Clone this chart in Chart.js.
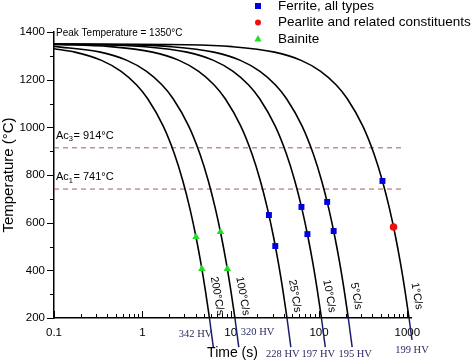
<!DOCTYPE html>
<html><head><meta charset="utf-8">
<script src="https://cdn.jsdelivr.net/npm/chart.js@4.4.1/dist/chart.umd.min.js"></script>
<style>html,body{margin:0;padding:0;background:#fff}#wrap{width:474px;height:362px;position:relative}</style>
</head><body><div id="wrap"><canvas id="c"></canvas></div>
<script>
// ---- data ----
const rateLabels = ['200°C/s','100°C/s','25°C/s','10°C/s','5°C/s','1°C/s'];
const hvLabels = ['342 HV','320 HV','228 HV','197 HV','195 HV','199 HV'];

const time200 = [0.1, 0.1725, 0.345, 0.575, 0.8625, 1.15, 1.725, 2.3, 2.875, 3.45, 4.025, 4.6, 5.175, 5.75];
const temp200 = [1330, 1315.5, 1281, 1235, 1177.5, 1120, 1005, 890, 775, 660, 545, 430, 315, 200];
const time100 = [0.1, 0.335, 0.67, 1.117, 1.676, 2.234, 3.351, 4.468, 5.585, 6.702, 7.819, 8.936, 10.05, 11.17];
const temp100 = [1339.7, 1315.5, 1281, 1235, 1177.5, 1120, 1005, 890, 775, 660, 545, 430, 315, 200];
const time25 = [0.1, 0.434, 1.302, 2.604, 4.34, 6.51, 8.68, 13.02, 17.36, 21.7, 26.04, 30.38, 34.72, 39.06, 43.4];
const temp25 = [1347.4, 1338.5, 1315.5, 1281, 1235, 1177.5, 1120, 1005, 890, 775, 660, 545, 430, 315, 200];
const time10 = [0.1, 0.32, 1.065, 3.195, 6.39, 10.65, 15.98, 21.3, 31.95, 42.6, 53.25, 63.9, 74.55, 85.2, 95.85, 106.5];
const temp10 = [1348.9, 1346.5, 1338.5, 1315.5, 1281, 1235, 1177.5, 1120, 1005, 890, 775, 660, 545, 430, 315, 200];
const time5 = [0.1, 0.644, 2.146, 6.438, 12.88, 21.46, 32.19, 42.92, 64.38, 85.84, 107.3, 128.8, 150.2, 171.7, 193.1, 214.6];
const temp5 = [1349.5, 1346.5, 1338.5, 1315.5, 1281, 1235, 1177.5, 1120, 1005, 890, 775, 660, 545, 430, 315, 200];
const time1 = [0.1, 3.135, 10.45, 31.35, 62.7, 104.5, 156.8, 209, 313.5, 418, 522.5, 627, 731.5, 836, 940.5, 1045];
const temp1 = [1349.9, 1346.5, 1338.5, 1315.5, 1281, 1235, 1177.5, 1120, 1005, 890, 775, 660, 545, 430, 315, 200];

// continuation below 200 °C (to hardness labels)
const tailTime = [[5.75, 6.36], [11.17, 12.35], [43.4, 48.0], [106.5, 117.8], [214.6, 237.3], [1045, 1129]];
const tailTemp = [[200, 78], [200, 78], [200, 78], [200, 78], [200, 78], [200, 108]];

// where the rate labels sit along each curve
const rateLabelTime = [5.29, 10.27, 39.9, 98.0, 197.4, 961.8];
const rateLabelTemp = 292;

const ferriteTime = [27.1, 32.0, 63.3, 73.9, 123.7, 146.5, 522.7];
const ferriteTemp = [632, 502, 666, 552, 687, 565, 775];
const pearliteTime = [698];
const pearliteTemp = [582];
const bainiteTime = [4.05, 4.72, 7.66, 9.17];
const bainiteTemp = [540, 406, 561, 406];

const criticalTemps = [914, 741];
const criticalNames = [['Ac', '3', '= 914°C'], ['Ac', '1', '= 741°C']];
const criticalSpan = [0.1, 880];
const peakText = 'Peak Temperature = 1350°C';
const peakTemp = 1400;

const xMin = 0.1, xMax = 1100, yMin = 200, yMax = 1400, yStep = 200;

// ---- build datasets ----
const curveTimes = [time200, time100, time25, time10, time5, time1];
const curveTemps = [temp200, temp100, temp25, temp10, temp5, temp1];
const pts = (xs, ys) => xs.map((x, i) => ({x: x, y: ys[i]}));

const SANS = '"Liberation Sans", Arial, sans-serif';
const SERIF = '"Liberation Serif", "Times New Roman", serif';

const datasets = [];
datasets.push({label: 'Ferrite, all types', data: pts(ferriteTime, ferriteTemp), showLine: false,
  pointStyle: 'rect', pointRadius: 4.2, backgroundColor: '#0000dd', borderColor: '#0000dd', borderWidth: 0});
datasets.push({label: 'Pearlite and related constituents', data: pts(pearliteTime, pearliteTemp), showLine: false,
  pointStyle: 'circle', pointRadius: 3.8, backgroundColor: '#ee1111', borderColor: '#ee1111', borderWidth: 0});
datasets.push({label: 'Bainite', data: pts(bainiteTime, bainiteTemp), showLine: false,
  pointStyle: 'triangle', pointRadius: 4.3, backgroundColor: '#22dd22', borderColor: '#22dd22', borderWidth: 0});
curveTimes.forEach((ts, i) => {
  datasets.push({label: rateLabels[i], data: pts(ts, curveTemps[i]), borderColor: '#000', borderWidth: 1.6,
    pointRadius: 0, cubicInterpolationMode: 'monotone', fill: false});
});
tailTime.forEach((ts, i) => {
  datasets.push({label: hvLabels[i], data: pts(ts, tailTemp[i]), borderColor: '#1c1c6e', borderWidth: 1.5,
    pointRadius: 0, clip: false, fill: false});
});
criticalTemps.forEach((T, i) => {
  datasets.push({label: criticalNames[i].join(''), data: pts(criticalSpan, [T, T]), borderColor: '#a85c5c',
    borderWidth: 1, borderDash: [5, 4], pointRadius: 0, fill: false});
});

const legendItems = [
  {text: 'Ferrite, all types', style: 'rect', color: '#0000dd'},
  {text: 'Pearlite and related constituents', style: 'circle', color: '#ee1111'},
  {text: 'Bainite', style: 'triangle', color: '#22dd22'}
];

function marker(ctx, style, x, y, r, color) {
  ctx.fillStyle = color;
  ctx.beginPath();
  if (style === 'rect') { const s = r; ctx.rect(x - s, y - s, 2 * s, 2 * s); }
  else if (style === 'circle') { ctx.arc(x, y, r, 0, Math.PI * 2); }
  else { ctx.moveTo(x, y - r); ctx.lineTo(x + r * 0.9, y + r * 0.6); ctx.lineTo(x - r * 0.9, y + r * 0.6); ctx.closePath(); }
  ctx.fill();
}

const deco = {
  id: 'deco',
  afterDraw(chart) {
    const ctx = chart.ctx, xs = chart.scales.x, ys = chart.scales.y, a = chart.chartArea;
    ctx.save();
    // tick marks
    ctx.strokeStyle = '#000'; ctx.lineWidth = 1;
    for (let v = yMin; v <= yMax; v += yStep / 2) {
      const y = Math.round(ys.getPixelForValue(v)) + 0.5;
      const len = ((v - yMin) % yStep === 0) ? 7 : 4;
      ctx.beginPath(); ctx.moveTo(a.left - len, y); ctx.lineTo(a.left, y); ctx.stroke();
    }
    for (let d = -1; d <= 3; d++) {
      for (let m = 1; m <= 9; m++) {
        const v = m * Math.pow(10, d);
        if (v > xMax * 1.0001) break;
        const x = Math.round(xs.getPixelForValue(v)) + 0.5;
        const len = m === 1 ? 7 : 4;
        ctx.beginPath(); ctx.moveTo(x, a.bottom); ctx.lineTo(x, a.bottom - len); ctx.stroke();
      }
    }
    // axis titles
    ctx.fillStyle = '#000';
    ctx.font = '14px ' + SANS; ctx.textAlign = 'center'; ctx.textBaseline = 'middle';
    ctx.fillText('Time (s)', (a.left + a.right) / 2, 353);
    ctx.save(); ctx.translate(9, (a.top + a.bottom) / 2); ctx.rotate(-Math.PI / 2);
    ctx.font = '15px ' + SANS;
    ctx.fillText('Temperature (°C)', 0, 0); ctx.restore();
    // peak text
    ctx.font = '10px ' + SANS; ctx.textAlign = 'left';
    ctx.fillText(peakText, a.left + 2, ys.getPixelForValue(peakTemp) + 1);
    // critical temperatures
    criticalTemps.forEach((T, i) => {
      const y = ys.getPixelForValue(T) - 12;
      let x = a.left + 2;
      const [p1, sub, p2] = criticalNames[i];
      ctx.font = '11px ' + SANS; ctx.textBaseline = 'middle';
      ctx.fillText(p1, x, y); x += ctx.measureText(p1).width;
      ctx.font = '7.5px ' + SANS; ctx.fillText(sub, x, y + 3.5); x += ctx.measureText(sub).width + 0.5;
      ctx.font = '11px ' + SANS; ctx.fillText(p2, x, y);
    });
    // rate labels, rotated along the curves
    ctx.font = '11px ' + SANS; ctx.textAlign = 'center'; ctx.textBaseline = 'middle';
    rateLabelTime.forEach((t, i) => {
      const x = xs.getPixelForValue(t) + 11, y = ys.getPixelForValue(rateLabelTemp);
      ctx.save(); ctx.translate(x, y); ctx.rotate(80 * Math.PI / 180);
      ctx.fillText(rateLabels[i], 0, 0); ctx.restore();
    });
    // hardness labels at the ends of the tails
    const hvOff = [[-1, -13, 'right'], [2, -15, 'left'], [-8, 7, 'center'], [-7, 7, 'center'], [3, 7, 'center'], [0, 10, 'center']];
    ctx.font = '10.5px ' + SERIF; ctx.fillStyle = '#2a2a62';
    tailTime.forEach((ts, i) => {
      const ex = xs.getPixelForValue(ts[1]), ey = ys.getPixelForValue(tailTemp[i][1]);
      ctx.textAlign = hvOff[i][2];
      ctx.fillText(hvLabels[i], ex + hvOff[i][0], ey + hvOff[i][1]);
    });
    // legend
    ctx.font = '13.5px ' + SANS; ctx.textAlign = 'left'; ctx.textBaseline = 'middle';
    legendItems.forEach((it, i) => {
      const y = 6 + i * 16.5;
      marker(ctx, it.style, 258, y, it.style === 'triangle' ? 4 : 3, it.color);
      ctx.fillStyle = '#000';
      ctx.fillText(it.text, 278, y);
    });
    ctx.restore();
  }
};

new Chart(document.getElementById('c'), {
  type: 'line',
  data: {datasets: datasets},
  options: {
    responsive: true, maintainAspectRatio: false, animation: false, devicePixelRatio: 1,
    layout: {padding: {top: 32, right: 63, left: 0, bottom: 0}},
    plugins: {legend: {display: false}, tooltip: {enabled: false}},
    scales: {
      x: {
        type: 'logarithmic', min: xMin, max: xMax,
        grid: {display: true, drawOnChartArea: false, drawTicks: false},
        border: {display: true, color: '#000', width: 1.5},
        ticks: {
          autoSkip: false, maxRotation: 0, padding: 8, color: '#000', font: {family: SANS, size: 11.5},
          callback: (v) => {
            const l = Math.log10(v);
            if (Math.abs(l - Math.round(l)) > 1e-6) return '';
            return v < 1 ? v.toFixed(1) : String(Math.round(v));
          }
        },
        afterFit: (s) => { s.height = 44; }
      },
      y: {
        type: 'linear', min: yMin, max: yMax,
        grid: {display: true, drawOnChartArea: false, drawTicks: false},
        border: {display: true, color: '#000', width: 1.5},
        ticks: {stepSize: yStep, padding: 9, color: '#000', font: {family: SANS, size: 11.5},
          callback: (v) => String(v)},
        afterFit: (s) => { s.width = 54; }
      }
    }
  },
  plugins: [deco]
});
</script>
</body></html>
